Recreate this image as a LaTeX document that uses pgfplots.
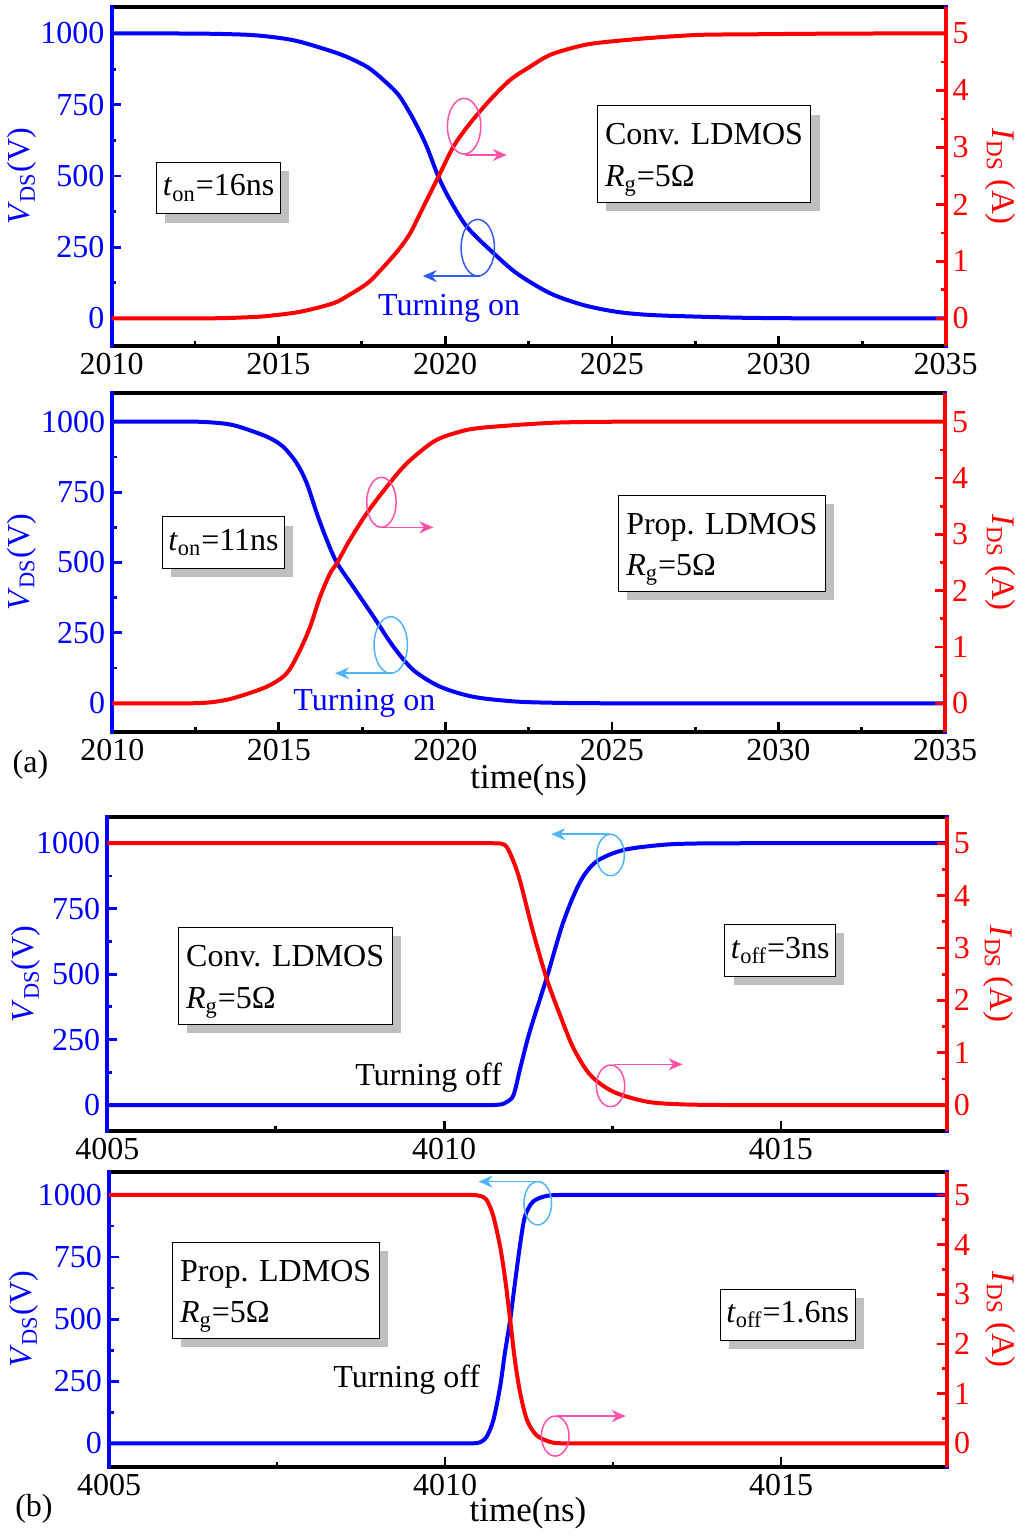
\documentclass[border=0pt]{standalone}
\usepackage{fontspec}
\setmainfont{Liberation Serif}
\usepackage{pgfplots}
\pgfplotsset{compat=1.18}
\usetikzlibrary{shadows,arrows.meta}
\definecolor{vblue}{RGB}{0,0,255}
\definecolor{ired}{RGB}{255,0,0}
\definecolor{annpink}{RGB}{255,80,170}
\definecolor{annlblue}{RGB}{80,180,250}
\definecolor{annblue}{RGB}{50,90,240}
\newcommand{\fs}{\fontsize{16}{19}\selectfont}
\pgfplotsset{
  leftax/.style={
    scale only axis, anchor=south west,
    separate axis lines,
    axis line style={line width=2pt, line cap=rect},
    x axis line style={black},
    y axis line style={vblue},
    xtick pos=left, ytick pos=left,
    tick align=inside,
    major tick length=5pt, minor tick length=2.5pt,
    every tick/.style={line width=1.4pt},
    every x tick/.append style={black},
    every y tick/.append style={vblue},
    ytick={0,250,500,750,1000}, minor y tick num=1,
    minor x tick num=1,
    tick label style={font=\fs},
    xticklabel style={black},
    yticklabel style={vblue},
    /pgf/number format/1000 sep={},
    /pgf/number format/assume math mode=true,
    ylabel={\textit{V}\textsubscript{DS}(V)},
    ylabel style={font=\fs, vblue, anchor=center},
    xlabel style={font=\fontsize{17.5}{20}\selectfont, anchor=center},
  },
  rightax/.style={
    scale only axis, anchor=south west,
    axis x line=none, axis y line*=right,
    y axis line style={ired, line width=2pt, -},
    ytick pos=right, yticklabel pos=right,
    tick align=inside,
    major tick length=5pt, minor tick length=2.5pt,
    every tick/.style={line width=1.4pt, ired},
    ytick={0,1,2,3,4,5}, minor y tick num=1,
    tick label style={font=\fs},
    yticklabel style={ired},
    /pgf/number format/assume math mode=true,
    ylabel={\textit{I}\textsubscript{DS} (A)},
    ylabel style={font=\fontsize{16.5}{19}\selectfont, ired, anchor=center, rotate=180},
  },
  vline/.style={vblue, line width=2pt, smooth, tension=0.5},
  iline/.style={ired, line width=2pt, smooth, tension=0.5},
}
\tikzset{
  tbox/.style={draw=black, line width=0.5pt, fill=white, inner xsep=3pt, inner ysep=6.3pt, font=\fs,
    drop shadow={shadow xshift=4.3pt, shadow yshift=-4.3pt, fill=black!25, opacity=1}},
  tbox2/.style={draw=black, line width=0.5pt, fill=white, inner xsep=4pt, inner ysep=3pt, align=left,
    font=\fontsize{16}{20.8}\selectfont,
    drop shadow={shadow xshift=4.3pt, shadow yshift=-4.3pt, fill=black!25, opacity=1}},
  ell/.style={line width=0.75pt},
  arr/.style={line width=0.8pt, -{Stealth[length=7pt,width=6pt]}},
}
\begin{document}
\begin{tikzpicture}
\useasboundingbox (0,0) rectangle (512.5pt,-768.5pt);

% ---------------- Panel 1 ----------------
\begin{axis}[leftax, at={(55.75pt,-173pt)}, width=417pt, height=169.5pt,
  xmin=2010, xmax=2035, ymin=-97, ymax=1093, xtick={2010,2015,...,2035},
  ylabel style={at={(axis description cs:-0.1073,0.5)}}]
\addplot[vline] coordinates {(2010,1000)(2011,1000)(2012,1000)(2013,999)(2014.15,995)(2015,985)(2015.65,971)(2016.64,936)(2017.15,913)(2017.7,880)(2018.15,837)(2018.6,785)(2018.95,720)(2019.2,665)(2019.45,603)(2019.80,497)(2020.15,415)(2020.65,322)(2021.35,240)(2022.15,158)(2023.15,88)(2024.14,47)(2025.14,23)(2026.14,12)(2027.6,6)(2029,2)(2031,0)(2033,0)(2035,0)};
\coordinate (p1t) at (axis cs:2013.21,457.5);
\coordinate (p1c) at (axis cs:2027.76,576);
\coordinate (p1turn) at (axis cs:2020.12,10);
\coordinate (p1e1) at (axis cs:2020.57,674.5);
\coordinate (p1a1s) at (axis cs:2020.60,573.5);
\coordinate (p1a1e) at (axis cs:2021.85,573.5);
\coordinate (p1e2) at (axis cs:2020.98,248);
\coordinate (p1a2s) at (axis cs:2021.05,148.5);
\coordinate (p1a2e) at (axis cs:2019.33,148.5);
\end{axis}
\begin{axis}[rightax, at={(55.75pt,-173pt)}, width=417pt, height=169.5pt,
  xmin=2010, xmax=2035, ymin=-0.485, ymax=5.465,
  ylabel style={at={(axis description cs:1.0653,0.5)}}]
\addplot[iline] coordinates {(2010,0)(2011,0)(2012,0)(2012.7,0)(2013.4,0.005)(2014.1,0.02)(2014.65,0.04)(2015.65,0.115)(2016.65,0.265)(2017.15,0.42)(2017.7,0.63)(2018.15,0.9)(2018.6,1.2)(2018.95,1.49)(2019.2,1.78)(2019.45,2.075)(2019.80,2.485)(2020.25,3.015)(2020.75,3.425)(2021.35,3.835)(2021.95,4.185)(2022.5,4.4)(2023.15,4.625)(2024.0,4.775)(2024.65,4.84)(2026.1,4.92)(2027.6,4.975)(2029.1,4.985)(2031,4.995)(2033,5)(2035,5)};
\end{axis}
\node[tbox] at (p1t) {\textit{t}\textsubscript{on}=16ns};
\node[tbox2] at (p1c) {\rule{0pt}{16.5pt}Conv. LDMOS\\\textit{R}\textsubscript{g}=5Ω};
\node[font=\fs, text=vblue, anchor=base] at (p1turn) {Turning on};
\draw[ell, annpink] (p1e1) ellipse [x radius=8.35pt, y radius=13.9pt];
\draw[arr, annpink] (p1a1s) -- (p1a1e);
\draw[ell, annblue] (p1e2) ellipse [x radius=8.35pt, y radius=14.15pt];
\draw[arr, annblue] (p1a2s) -- (p1a2e);

% ---------------- Panel 2 ----------------
\begin{axis}[leftax, at={(56.15pt,-365.85pt)}, width=416.35pt, height=169.2pt,
  xmin=2010, xmax=2035, ymin=-101, ymax=1101, xtick={2010,2015,...,2035},
  ylabel style={at={(axis description cs:-0.109,0.5)}},
  xlabel={time(ns)}, xlabel style={at={(axis description cs:0.5,-0.1427)}}]
\addplot[vline] coordinates {(2010,1000)(2011,1000)(2011.8,1000)(2012.3,1000)(2012.8,999)(2013.63,988)(2014.64,947)(2015.13,911)(2015.54,852)(2015.84,781)(2016.14,675)(2016.44,580)(2016.74,500)(2017.23,414)(2017.84,308)(2018.44,201)(2019.04,118)(2019.84,59)(2020.84,23)(2022.14,6)(2023.64,1)(2025,0)(2027,0)(2030,0)(2035,0)};
\coordinate (p2t) at (axis cs:2013.34,570);
\coordinate (p2c) at (axis cs:2028.30,567.5);
\coordinate (p2turn) at (axis cs:2017.57,-27);
\coordinate (p2e1) at (axis cs:2018.08,713.8);
\coordinate (p2a1s) at (axis cs:2018.14,625);
\coordinate (p2a1e) at (axis cs:2019.64,625);
\coordinate (p2e2) at (axis cs:2018.36,207);
\coordinate (p2a2s) at (axis cs:2018.39,106.5);
\coordinate (p2a2e) at (axis cs:2016.69,106.5);
\end{axis}
\begin{axis}[rightax, at={(56.15pt,-365.85pt)}, width=416.35pt, height=169.2pt,
  xmin=2010, xmax=2035, ymin=-0.505, ymax=5.505,
  ylabel style={at={(axis description cs:1.066,0.5)}}]
\addplot[iline] coordinates {(2010,0)(2011,0)(2011.8,0)(2012.4,0)(2013,0.02)(2013.63,0.09)(2014.64,0.295)(2015.24,0.535)(2015.64,0.95)(2015.94,1.36)(2016.24,1.895)(2016.54,2.31)(2016.74,2.485)(2017.13,2.9)(2017.64,3.375)(2018.24,3.845)(2018.84,4.26)(2019.64,4.645)(2020.3,4.8)(2021.04,4.89)(2023.15,4.98)(2025,5)(2027,5)(2030,5)(2035,5)};
\end{axis}
\node[tbox] at (p2t) {\textit{t}\textsubscript{on}=11ns};
\node[tbox2] at (p2c) {\rule{0pt}{16.5pt}Prop. LDMOS\\\textit{R}\textsubscript{g}=5Ω};
\node[font=\fs, text=vblue, anchor=base] at (p2turn) {Turning on};
\draw[ell, annpink] (p2e1) ellipse [x radius=7.35pt, y radius=12.5pt];
\draw[arr, annpink] (p2a1s) -- (p2a1e);
\draw[ell, annlblue] (p2e2) ellipse [x radius=8.35pt, y radius=14.15pt];
\draw[arr, annlblue] (p2a2s) -- (p2a2e);
\node[font=\fs] at (15.25pt,-382.5pt) {(a)};

% ---------------- Panel 3 ----------------
\begin{axis}[leftax, at={(53.65pt,-565.5pt)}, width=419.7pt, height=156.85pt,
  xmin=4005, xmax=4017.46, ymin=-99, ymax=1099, xtick={4005,4010,4015},
  ylabel style={at={(axis description cs:-0.0969,0.5)}}]
\addplot[vline] coordinates {(4005,0)(4007,0)(4008.5,0)(4009.5,0)(4010.1,0)(4010.45,0)(4010.7,0)(4010.85,3)(4010.93,12)(4011.03,38)(4011.13,141)(4011.27,280)(4011.52,484)(4011.77,700)(4012.02,853)(4012.26,930)(4012.66,974)(4013.25,994)(4013.75,999)(4014.5,1000)(4015.5,1000)(4017.5,1000)};
\coordinate (p3c) at (axis cs:4007.64,494);
\coordinate (p3t) at (axis cs:4014.99,591.5);
\coordinate (p3turn) at (axis cs:4009.77,76.4);
\coordinate (p3e1) at (axis cs:4012.47,955);
\coordinate (p3a1s) at (axis cs:4012.46,1034.4);
\coordinate (p3a1e) at (axis cs:4011.59,1034.4);
\coordinate (p3e2) at (axis cs:4012.47,73.4);
\coordinate (p3a2s) at (axis cs:4012.52,155.5);
\coordinate (p3a2e) at (axis cs:4013.54,155.5);
\end{axis}
\begin{axis}[rightax, at={(53.65pt,-565.5pt)}, width=419.7pt, height=156.85pt,
  xmin=4005, xmax=4017.46, ymin=-0.495, ymax=5.495,
  ylabel style={at={(axis description cs:1.0611,0.5)}}]
\addplot[iline] coordinates {(4005,5)(4007,5)(4008.5,5)(4009.5,5)(4010.1,5)(4010.45,5)(4010.7,5)(4010.85,4.99)(4010.93,4.93)(4011.03,4.65)(4011.13,4.265)(4011.32,3.31)(4011.52,2.42)(4011.72,1.72)(4011.92,1.085)(4012.17,0.575)(4012.51,0.255)(4013.01,0.065)(4013.5,0.015)(4014.09,0.002)(4014.8,0)(4015.8,0)(4017.5,0)};
\end{axis}
\node[tbox2] at (p3c) {\rule{0pt}{16.5pt}Conv. LDMOS\\\textit{R}\textsubscript{g}=5Ω};
\node[tbox] at (p3t) {\textit{t}\textsubscript{off}=3ns};
\node[font=\fs, anchor=base] at (p3turn) {Turning off};
\draw[ell, annlblue] (p3e1) ellipse [x radius=6.9pt, y radius=10.35pt];
\draw[arr, annlblue] (p3a1s) -- (p3a1e);
\draw[ell, annpink] (p3e2) ellipse [x radius=7.1pt, y radius=10.4pt];
\draw[arr, annpink] (p3a2s) -- (p3a2e);

% ---------------- Panel 4 ----------------
\begin{axis}[leftax, at={(54.5pt,-733.35pt)}, width=419pt, height=147.2pt,
  xmin=4005, xmax=4017.47, ymin=-94, ymax=1091, xtick={4005,4010,4015},
  ylabel style={at={(axis description cs:-0.1014,0.5)}},
  xlabel={time(ns)}, xlabel style={at={(axis description cs:0.5,-0.157)}}]
\addplot[vline] coordinates {(4005,0)(4007,0)(4008.5,0)(4009.4,0)(4009.9,0)(4010.2,0)(4010.4,0)(4010.52,4)(4010.62,27)(4010.72,94)(4010.82,228)(4010.89,362)(4010.97,497)(4011.04,644)(4011.12,805)(4011.19,913)(4011.31,973)(4011.51,996)(4011.75,1000)(4012.1,1000)(4012.7,1000)(4014,1000)(4017.5,1000)};
\coordinate (p4c) at (axis cs:4007.48,616);
\coordinate (p4t) at (axis cs:4015.10,517);
\coordinate (p4turn) at (axis cs:4009.43,224);
\coordinate (p4e1) at (axis cs:4011.38,966.6);
\coordinate (p4a1s) at (axis cs:4011.39,1053.6);
\coordinate (p4a1e) at (axis cs:4010.50,1053.6);
\coordinate (p4e2) at (axis cs:4011.64,29.4);
\coordinate (p4a2s) at (axis cs:4011.66,110);
\coordinate (p4a2e) at (axis cs:4012.69,110);
\end{axis}
\begin{axis}[rightax, at={(54.5pt,-733.35pt)}, width=419pt, height=147.2pt,
  xmin=4005, xmax=4017.47, ymin=-0.47, ymax=5.455,
  ylabel style={at={(axis description cs:1.0632,0.5)}}]
\addplot[iline] coordinates {(4005,5)(4007,5)(4008.5,5)(4009.4,5)(4009.9,5)(4010.2,5)(4010.4,5)(4010.52,4.98)(4010.62,4.9)(4010.72,4.565)(4010.82,3.96)(4010.89,3.355)(4010.97,2.485)(4011.04,1.675)(4011.12,1.005)(4011.22,0.47)(4011.36,0.165)(4011.56,0.03)(4011.75,0)(4012.1,0)(4012.7,0)(4014,0)(4017.5,0)};
\end{axis}
\node[tbox2] at (p4c) {\rule{0pt}{16.5pt}Prop. LDMOS\\\textit{R}\textsubscript{g}=5Ω};
\node[tbox] at (p4t) {\textit{t}\textsubscript{off}=1.6ns};
\node[font=\fs, anchor=base] at (p4turn) {Turning off};
\draw[ell, annlblue] (p4e1) ellipse [x radius=6.9pt, y radius=10.85pt];
\draw[arr, annlblue] (p4a1s) -- (p4a1e);
\draw[ell, annpink] (p4e2) ellipse [x radius=6.9pt, y radius=10pt];
\draw[arr, annpink] (p4a2s) -- (p4a2e);
\node[font=\fs] at (17pt,-754.5pt) {(b)};
\end{tikzpicture}
\end{document}
